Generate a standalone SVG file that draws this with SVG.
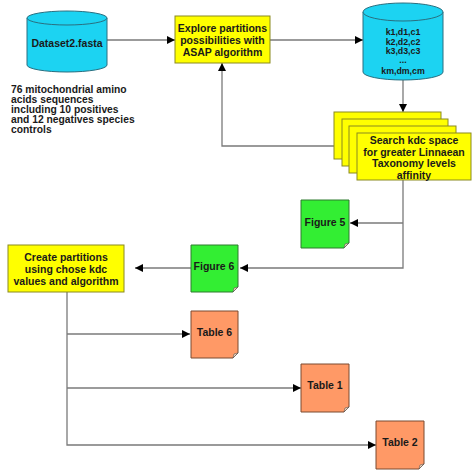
<svg xmlns="http://www.w3.org/2000/svg" width="474" height="474" viewBox="0 0 474 474">
<style>
text{font-family:"Liberation Sans",Arial,sans-serif;font-weight:bold;font-size:10.5px;fill:#1a1a1a;text-anchor:middle}
.note{text-anchor:start;font-size:10.3px}
.small{font-size:8.8px}
.proc{fill:#ffff00;stroke:#8a8a20;stroke-width:1}
.cyl{fill:#1cd3f2;stroke:#2a6f80;stroke-width:1}
.fig{fill:#33ee33;stroke:#2f7a2f;stroke-width:1}
.tab{fill:#ff9966;stroke:#7a4a30;stroke-width:1}
.fold{fill:#f5d9c0;stroke:#555;stroke-width:0.6}
.c{fill:none;stroke:#7a7a7a;stroke-width:1.3}
</style>
<defs>
<marker id="ah" viewBox="0 0 10 10" refX="10" refY="5" markerWidth="8" markerHeight="8" markerUnits="userSpaceOnUse" orient="auto">
<path d="M0,0 L10,5 L0,10 z" fill="#000"/>
</marker>
</defs>
<rect width="474" height="474" fill="#fff"/>
<g id="connectors">
<path class="c" d="M107,40 H175" marker-end="url(#ah)"/>
<path class="c" d="M270,40 H363" marker-end="url(#ah)"/>
<path class="c" d="M403,79 V112" marker-end="url(#ah)"/>
<path class="c" d="M334,146 H222 V63" marker-end="url(#ah)"/>
<path class="c" d="M403,223 H350" marker-end="url(#ah)"/>
<path class="c" d="M403,180 V268 H240" marker-end="url(#ah)"/>
<path class="c" d="M191,268 H135" marker-end="url(#ah)"/>
<path class="c" d="M67,292 V445 H376" marker-end="url(#ah)"/>
<path class="c" d="M67,334 H190" marker-end="url(#ah)"/>
<path class="c" d="M67,388 H301" marker-end="url(#ah)"/>
</g>
<g id="dataset">
<path class="cyl" d="M27,18 V65 A40,7 0 0 0 107,65 V18"/>
<ellipse class="cyl" cx="67" cy="18" rx="40" ry="7"/>
<text x="67" y="47">Dataset2.fasta</text>
</g>
<g id="note">
<text class="note" x="11" y="93">76 mitochondrial amino</text>
<text class="note" x="11" y="103">acids sequences</text>
<text class="note" x="11" y="113">including 10 positives</text>
<text class="note" x="11" y="123">and 12 negatives species</text>
<text class="note" x="11" y="133">controls</text>
</g>
<g id="explore">
<rect class="proc" x="175" y="16" width="95" height="47"/>
<text x="222.5" y="32">Explore partitions</text>
<text x="222.5" y="44">possibilities with</text>
<text x="222.5" y="56">ASAP algorithm</text>
</g>
<g id="kdc">
<path class="cyl" d="M363,12 V72 A40,8 0 0 0 443,72 V12"/>
<ellipse class="cyl" cx="403" cy="12" rx="40" ry="9"/>
<text class="small" x="403" y="35">k1,d1,c1</text>
<text class="small" x="403" y="44.5">k2,d2,c2</text>
<text class="small" x="403" y="54">k3,d3,c3</text>
<text class="small" x="403" y="63">...</text>
<text class="small" x="403" y="73.5">km,dm,cm</text>
</g>
<g id="search">
<rect class="proc" x="334" y="112" width="107" height="47"/>
<rect class="proc" x="342" y="119" width="106" height="47"/>
<rect class="proc" x="349" y="126" width="107" height="47"/>
<rect class="proc" x="357" y="133" width="114" height="47"/>
<text x="414" y="144">Search kdc space</text>
<text x="414" y="155.5">for greater Linnaean</text>
<text x="414" y="167">Taxonomy levels</text>
<text x="414" y="178.5">affinity</text>
</g>
<g id="figure5">
<path class="fig" d="M301,200 H349 V243 L344,248 H301 Z"/>
<path class="fold" d="M349,243 L344,248 L345,244 Z"/>
<text x="325" y="226">Figure 5</text>
</g>
<g id="figure6">
<path class="fig" d="M191,245 H238 V287 L233,292 H191 Z"/>
<path class="fold" d="M238,287 L233,292 L234,288 Z"/>
<text x="214" y="270">Figure 6</text>
</g>
<g id="create">
<rect class="proc" x="8" y="245" width="116" height="47"/>
<text x="66" y="261">Create partitions</text>
<text x="66" y="273">using chose kdc</text>
<text x="66" y="284.5">values and algorithm</text>
</g>
<g id="table6">
<path class="tab" d="M191,311 H238 V353 L233,358 H191 Z"/>
<path class="fold" d="M238,353 L233,358 L234,354 Z"/>
<text x="214.5" y="336">Table 6</text>
</g>
<g id="table1">
<path class="tab" d="M301,364 H349 V407 L344,412 H301 Z"/>
<path class="fold" d="M349,407 L344,412 L345,408 Z"/>
<text x="325" y="389">Table 1</text>
</g>
<g id="table2">
<path class="tab" d="M376,421 H424 V464 L419,469 H376 Z"/>
<path class="fold" d="M424,464 L419,469 L420,465 Z"/>
<text x="400" y="446">Table 2</text>
</g>
</svg>
